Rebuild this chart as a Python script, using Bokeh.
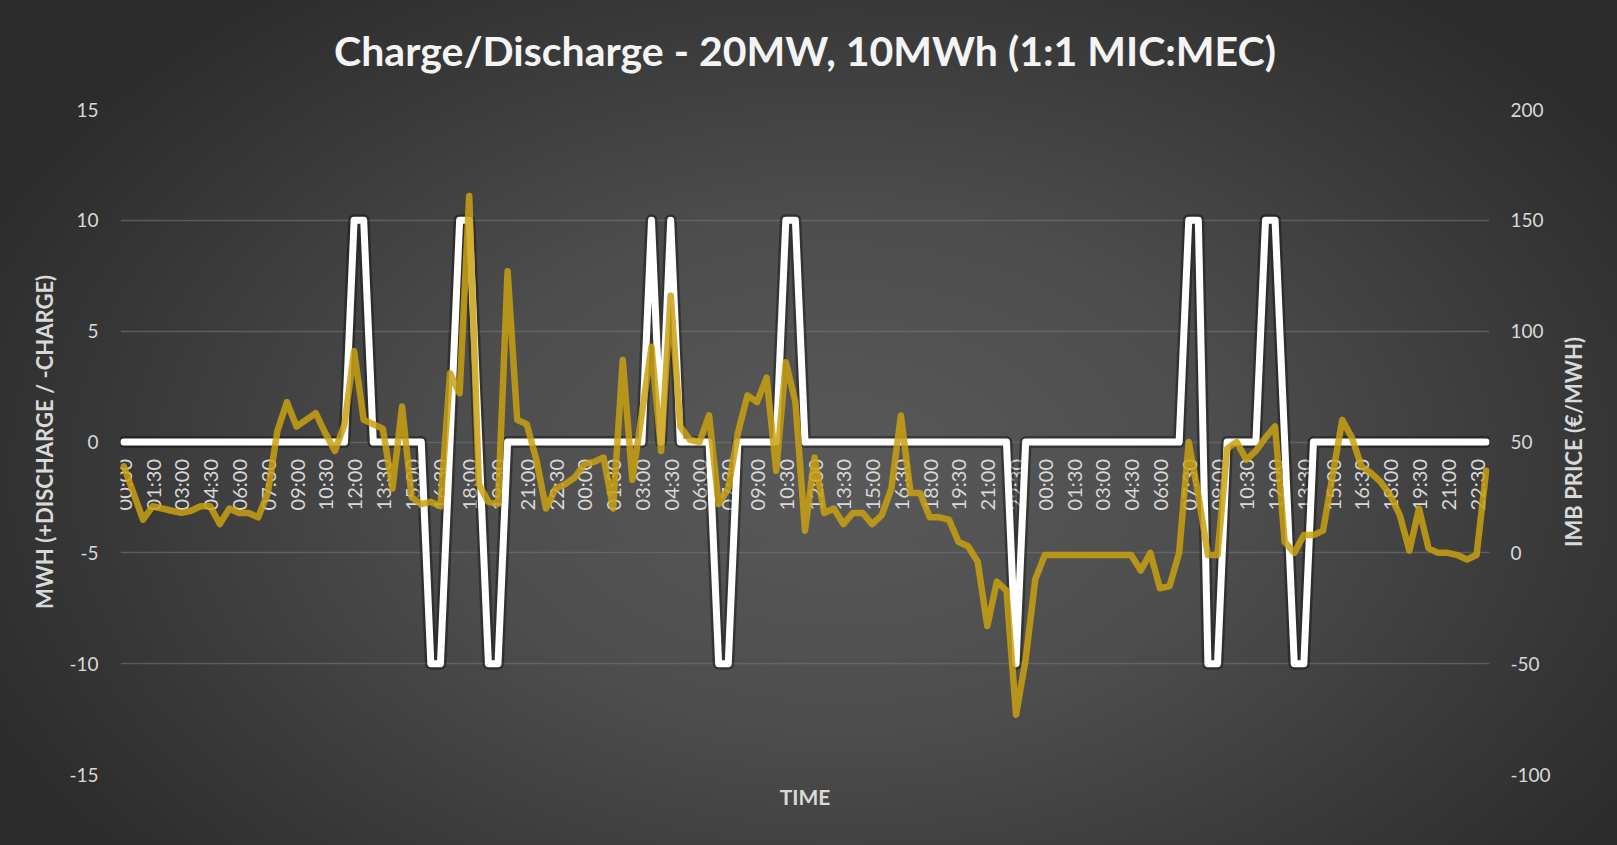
import math
from bokeh.plotting import figure
from bokeh.layouts import row
from bokeh.models import Range1d, LinearAxis, FixedTicker, ColumnDataSource, Title
from bokeh.core.properties import value
from bokeh.embed import file_html
from bokeh.resources import INLINE

TITLE = "Charge/Discharge - 20MW, 10MWh (1:1 MIC:MEC)"
Y_LEFT_LABEL = "MWH (+DISCHARGE / -CHARGE)"
Y_RIGHT_LABEL = "IMB PRICE (\u20ac/MWH)"
X_LABEL = "TIME"

# half-hour slots of one day; the chart spans three days (143 periods)
day_slots = [f"{h:02d}:{m:02d}" for h in range(24) for m in (0, 30)]
time_labels = (day_slots * 3)[:143]
label_every = 3

left_ticks = [-15, -10, -5, 0, 5, 10, 15]
right_ticks = [-100, -50, 0, 50, 100, 150, 200]

# charge (-) / discharge (+) in MWh per half hour
charge_mwh = [
    0, 0, 0, 0, 0, 0, 0, 0, 0, 0, 0, 0,
    0, 0, 0, 0, 0, 0, 0, 0, 0, 0, 0, 0,
    10, 10, 0, 0, 0, 0, 0, 0, -10, -10, 0, 10,
    10, 0, -10, -10, 0, 0, 0, 0, 0, 0, 0, 0,
    0, 0, 0, 0, 0, 0, 0, 10, 0, 10, 0, 0,
    0, 0, -10, -10, 0, 0, 0, 0, 0, 10, 10, 0,
    0, 0, 0, 0, 0, 0, 0, 0, 0, 0, 0, 0,
    0, 0, 0, 0, 0, 0, 0, 0, 0, -10, 0, 0,
    0, 0, 0, 0, 0, 0, 0, 0, 0, 0, 0, 0,
    0, 0, 0, 10, 10, -10, -10, 0, 0, 0, 0, 10,
    10, 0, -10, -10, 0, 0, 0, 0, 0, 0, 0, 0,
    0, 0, 0, 0, 0, 0, 0, 0, 0, 0, 0,
]

# imbalance price in EUR/MWh per half hour
imb_price = [
    39, 27, 15, 21, 20, 19, 18, 19, 21, 21, 13, 20,
    18, 18, 16, 27, 55, 68, 57, 60, 63, 54, 46, 58,
    91, 60, 58, 56, 29, 66, 25, 22, 23, 21, 81, 72,
    161, 31, 23, 22, 127, 60, 58, 42, 20, 29, 31, 34,
    40, 41, 43, 20, 87, 33, 63, 93, 46, 116, 57, 51,
    50, 62, 22, 29, 54, 71, 68, 79, 37, 86, 68, 10,
    43, 18, 20, 13, 18, 18, 13, 17, 29, 62, 27, 27,
    16, 16, 15, 5, 3, -4, -33, -13, -17, -73, -48, -12,
    -1, -1, -1, -1, -1, -1, -1, -1, -1, -1, -8, 0,
    -16, -15, 0, 50, 26, -1, -1, 47, 50, 42, 46, 52,
    57, 5, 0, 8, 8, 10, 35, 60, 52, 39, 36, 32,
    26, 17, 1, 20, 2, 0, 0, -1, -3, -1, 37,
]

FONT = "Lato"
TEXT_COL = "#d9d9d9"

idx = list(range(len(time_labels)))
src = ColumnDataSource(dict(x=idx, charge=charge_mwh, price=imb_price))

tick_idx = idx[::label_every]
tick_src = ColumnDataSource(dict(x=tick_idx, y=[0] * len(tick_idx),
                                 t=[time_labels[i] for i in tick_idx]))

X_PAD = 0.35
FIG_H = 840
BORDER_TOP, BORDER_BOTTOM = 109, 66

p = figure(width=1556, height=FIG_H, output_backend="svg", toolbar_location=None,
           x_range=Range1d(-X_PAD, len(idx) - 1 + X_PAD),
           y_range=Range1d(left_ticks[0], left_ticks[-1]),
           min_border_left=120, min_border_right=67,
           min_border_top=BORDER_TOP, min_border_bottom=BORDER_BOTTOM)
p.extra_y_ranges = {"price": Range1d(right_ticks[0], right_ticks[-1])}

p.background_fill_color = None
p.border_fill_color = None
p.outline_line_color = None

try:
    from bokeh.models import GlobalInlineStyleSheet
    p.stylesheets = [GlobalInlineStyleSheet(css=(
        "html, body { background: radial-gradient(ellipse 58% 72% at 52% 56%, "
        "#595959 0%, #4d4d4d 42%, #383838 78%, #2c2c2c 100%); background-color:#2c2c2c; }"))]
except Exception:
    pass

# title (a thin spacer title keeps it clear of the plot area)
p.title.text = TITLE
p.title.align = "center"
p.title.vertical_align = "bottom"
p.title.text_font = FONT
p.title.text_font_size = "41px"
p.title.text_font_style = "bold"
p.title.text_color = "#f4f4f4"
p.title.standoff = 0
p.add_layout(Title(text=" ", text_font_size="2px", standoff=31), "above")

# grid
p.xgrid.visible = False
p.ygrid.ticker = FixedTicker(ticks=left_ticks)
p.ygrid.grid_line_color = "#757575"
p.ygrid.grid_line_alpha = 0.6
p.ygrid.grid_line_width = 1.5

def style_axis(ax, label_size):
    ax.axis_line_color = None
    ax.major_tick_line_color = None
    ax.minor_tick_line_color = None
    ax.major_tick_out = 0
    ax.major_tick_in = 0
    ax.major_label_text_font = FONT
    ax.major_label_text_font_size = "19px"
    ax.major_label_text_color = TEXT_COL
    ax.axis_label_text_font = FONT
    ax.axis_label_text_font_size = label_size
    ax.axis_label_text_font_style = "bold"
    ax.axis_label_text_color = TEXT_COL

yl = p.yaxis[0]
yl.ticker = FixedTicker(ticks=left_ticks)
yl.major_label_overrides = {t: str(t) for t in left_ticks}
style_axis(yl, "22px")
yl.major_label_standoff = 22
yl.axis_label = Y_LEFT_LABEL
yl.axis_label_standoff = 8

yr = LinearAxis(y_range_name="price", ticker=FixedTicker(ticks=right_ticks))
yr.major_label_overrides = {t: str(t) for t in right_ticks}
style_axis(yr, "22px")
yr.major_label_standoff = 21
p.add_layout(yr, "right")

xa = p.xaxis[0]
xa.ticker = FixedTicker(ticks=[])
style_axis(xa, "21px")
xa.major_label_standoff = 0
xa.axis_label = X_LABEL
xa.axis_label_standoff = 9

# category labels sitting on the zero line (axis crosses at 0)
p.text(x="x", y="y", text="t", source=tick_src, angle=math.pi / 2,
       text_align="right", text_baseline="middle", y_offset=17,
       text_font=value(FONT), text_font_size="20px", text_color=TEXT_COL)

# series
p.line("x", "charge", source=src, line_color="black", line_alpha=0.35,
       line_width=12, line_join="round", line_cap="round")
p.line("x", "charge", source=src, line_color="white", line_width=7,
       line_join="round", line_cap="round")
p.line("x", "price", source=src, y_range_name="price", line_color="#C9A010",
       line_alpha=0.85, line_width=6.5, line_join="round", line_cap="round")

# narrow companion panel carrying the secondary-axis title (reads bottom-to-top)
q = figure(width=56, height=FIG_H, output_backend="svg", toolbar_location=None,
           y_range=Range1d(right_ticks[0], right_ticks[-1]), x_range=Range1d(0, 1),
           min_border_left=40, min_border_right=0,
           min_border_top=BORDER_TOP, min_border_bottom=BORDER_BOTTOM)
q.background_fill_color = None
q.border_fill_color = None
q.outline_line_color = None
q.grid.visible = False
q.xaxis.visible = False
qa = q.yaxis[0]
qa.ticker = FixedTicker(ticks=[])
style_axis(qa, "22px")
qa.major_label_standoff = 0
qa.axis_label = Y_RIGHT_LABEL
qa.axis_label_standoff = 11

layout = row(p, q)
open("out.html", "w").write(file_html(layout, INLINE))
